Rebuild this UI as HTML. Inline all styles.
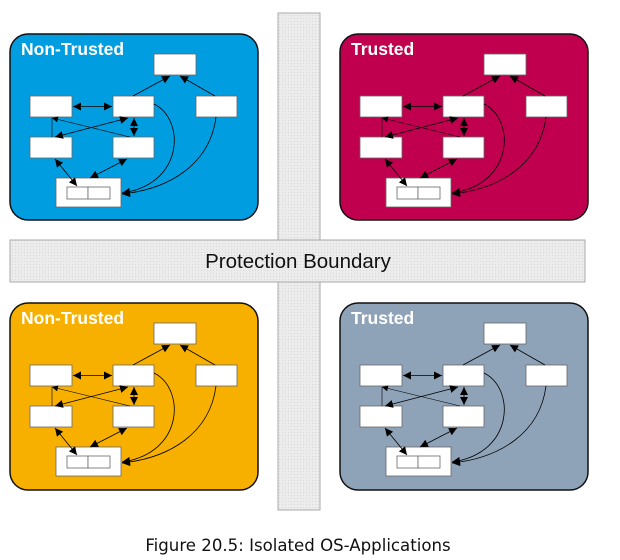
<!DOCTYPE html>
<html><head><meta charset="utf-8"><style>
html,body{margin:0;padding:0;background:#fff;width:620px;height:560px;overflow:hidden}
svg{display:block}
</style></head><body>
<svg width="620" height="560" viewBox="0 0 620 560" xmlns="http://www.w3.org/2000/svg">
<defs>
<marker id="a" viewBox="0 0 10 10" refX="10" refY="5" markerWidth="10" markerHeight="10" orient="auto-start-reverse"><path d="M0,0L10,5L0,10z" fill="#000"/></marker>
<pattern id="dots" width="3" height="3" patternUnits="userSpaceOnUse"><rect width="3" height="3" fill="#ececec"/><rect width="1" height="1" fill="#d8d8d8"/></pattern>
<g id="inner" fill="none" stroke="#000" stroke-width="0.8">
<rect x="144" y="20" width="42" height="21" fill="#fff" stroke="#666"/>
<rect x="20" y="62" width="42" height="21" fill="#fff" stroke="#666"/>
<rect x="103" y="62" width="41" height="21" fill="#fff" stroke="#666"/>
<rect x="186" y="62" width="41" height="21" fill="#fff" stroke="#666"/>
<rect x="20" y="103" width="42" height="21" fill="#fff" stroke="#666"/>
<rect x="103" y="103" width="41" height="21" fill="#fff" stroke="#666"/>
<rect x="46" y="144" width="65" height="29" fill="#fff" stroke="#666"/>
<rect x="57" y="153" width="21" height="12" fill="#fff" stroke="#666"/>
<rect x="78" y="153" width="22" height="12" fill="#fff" stroke="#666"/>
<line x1="63" y1="72.5" x2="102" y2="72.5" marker-start="url(#a)" marker-end="url(#a)"/>
<line x1="123" y1="62" x2="160" y2="42" marker-end="url(#a)"/>
<line x1="205" y1="62" x2="170" y2="42" marker-end="url(#a)"/>
<line x1="124" y1="84" x2="124" y2="102" marker-start="url(#a)" marker-end="url(#a)"/>
<line x1="120" y1="103" x2="42" y2="84" marker-end="url(#a)" stroke-width="0.6"/>
<line x1="42" y1="84" x2="42" y2="103" stroke-width="0.6"/>
<line x1="118" y1="84" x2="45" y2="103" marker-start="url(#a)" marker-end="url(#a)"/>
<line x1="45" y1="125" x2="67" y2="152" marker-start="url(#a)" marker-end="url(#a)"/>
<line x1="80" y1="144" x2="117" y2="125" marker-start="url(#a)" marker-end="url(#a)"/>
<path d="M144,70 C175,85 175,150 112,159" marker-end="url(#a)"/>
<path d="M206,83 C200,130 160,155 112,160" marker-end="url(#a)"/>
</g>
</defs>
<rect x="278" y="13" width="42" height="497" fill="url(#dots)" stroke="#aaa"/>
<rect x="10" y="240" width="575" height="42" fill="url(#dots)" stroke="#aaa"/>
<rect x="278.5" y="241" width="41" height="40" fill="url(#dots)"/>
<text x="298" y="268" text-anchor="middle" font-family="Liberation Sans, sans-serif" font-size="20.5" fill="#111">Protection Boundary</text>

<g transform="translate(10,34)"><rect x="0" y="0" width="248" height="186" rx="18" fill="#009ee0" stroke="#111" stroke-width="1.5"/><text x="11" y="21" font-family="Liberation Sans, sans-serif" font-weight="bold" font-size="17.5" fill="#fff">Non-Trusted</text><use href="#inner"/></g>
<g transform="translate(340,34)"><rect x="0" y="0" width="248" height="186" rx="18" fill="#c0004f" stroke="#111" stroke-width="1.5"/><text x="11" y="21" font-family="Liberation Sans, sans-serif" font-weight="bold" font-size="17.5" fill="#fff">Trusted</text><use href="#inner"/></g>
<g transform="translate(10,303)"><rect x="0" y="0" width="248" height="187" rx="18" fill="#f7b000" stroke="#111" stroke-width="1.5"/><text x="11" y="21" font-family="Liberation Sans, sans-serif" font-weight="bold" font-size="17.5" fill="#fff">Non-Trusted</text><use href="#inner"/></g>
<g transform="translate(340,303)"><rect x="0" y="0" width="248" height="187" rx="18" fill="#8fa3b8" stroke="#111" stroke-width="1.5"/><text x="11" y="21" font-family="Liberation Sans, sans-serif" font-weight="bold" font-size="17.5" fill="#fff">Trusted</text><use href="#inner"/></g>

<text x="298" y="551" text-anchor="middle" font-family="DejaVu Sans, sans-serif" font-size="16.6" fill="#111">Figure 20.5: Isolated OS-Applications</text>
</svg>
</body></html>
